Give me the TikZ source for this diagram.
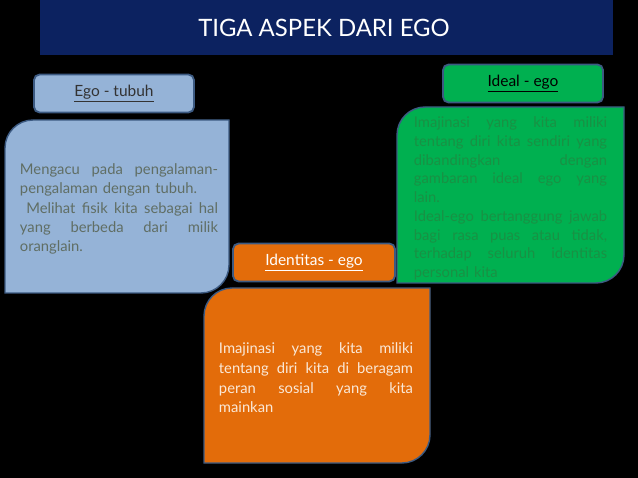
\documentclass[tikz,border=0pt]{standalone}
\usepackage{fontspec}
\setmainfont{Lato}
\usepackage{tikz}

\definecolor{bandnavy}{RGB}{12,34,96}
\definecolor{egoblue}{RGB}{149,179,215}
\definecolor{idealgreen}{RGB}{0,176,80}
\definecolor{identorange}{RGB}{227,108,10}
\definecolor{edgeblue}{RGB}{60,90,130}
\definecolor{egoink}{RGB}{96,110,100}
\definecolor{idealink}{RGB}{25,145,68}
\definecolor{identink}{RGB}{250,232,215}

\newcommand{\fullline}[2][4.95cm]{\makebox[#1][s]{\spaceskip=0pt \xspaceskip=0pt #2}}

\begin{document}
\begin{tikzpicture}[x=0.025cm,y=-0.025cm,
      labelbox/.style={draw=edgeblue,line width=1.3pt,rounded corners=4pt,
        minimum width=4cm,minimum height=0.95cm,inner sep=0pt,
        font=\fontsize{11}{13}\selectfont},
      bodybox/.style={draw=edgeblue,line width=1pt},
      bodytext/.style={inner sep=0pt,align=left,
        font=\fontsize{10.5}{13.6}\selectfont}]
      \useasboundingbox (0,0) rectangle (638,478);
      \fill[black] (0,0) rectangle (638,478);

      \fill[bandnavy] (40,0) rectangle (613,55);
      \node[text=white,font=\fontsize{17}{20}\selectfont] (title) at (324,28) {TIGA ASPEK DARI EGO};

      \node[labelbox,fill=egoblue,text=black!80] (egolabel) at (114,93.5) {\underline{Ego - tubuh}};
      \node[labelbox,fill=idealgreen,text=black] (ideallabel) at (523,83.5) {\underline{Ideal - ego}};
      \node[labelbox,fill=identorange,text=white,minimum width=4.05cm] (identlabel) at (314,262.5) {\underline{Identitas - ego}};

      \draw[bodybox,fill=egoblue] (5,293) -- (5,148) .. controls (5,132.6) and (17.6,120) .. (33,120)
        -- (229,120) -- (229,265) .. controls (229,280.4) and (216.4,293) .. (201,293) -- cycle;
      \draw[bodybox,fill=idealgreen] (397,283) -- (397,135) .. controls (397,119.6) and (409.6,107) .. (425,107)
        -- (624,107) -- (624,255) .. controls (624,270.4) and (611.4,283) .. (596,283) -- cycle;
      \draw[bodybox,fill=identorange] (204,463) -- (204,316) .. controls (204,300.6) and (216.6,288) .. (232,288)
        -- (430,288) -- (430,435) .. controls (430,450.4) and (417.4,463) .. (402,463) -- cycle;

      \node[bodytext,text=egoink,text width=4.95cm] (egotext) at (119,209) {
        \fullline{Mengacu pada pengalaman-}\\
        pengalaman dengan tubuh.\\
        \fullline{\ Melihat fisik kita sebagai hal}\\
        \fullline{yang berbeda dari milik}\\
        oranglain.};
      \node[bodytext,text=idealink,text width=4.83cm,font=\fontsize{10.5}{13.3}\selectfont] (idealtext) at (510.5,198.5) {
        \fullline[4.83cm]{Imajinasi yang kita miliki}\\
        \fullline[4.83cm]{tentang diri kita sendiri yang}\\
        \fullline[4.83cm]{dibandingkan dengan}\\
        \fullline[4.83cm]{gambaran ideal ego yang}\\
        lain.\\
        \fullline[4.83cm]{Ideal-ego bertanggung jawab}\\
        \fullline[4.83cm]{bagi rasa puas atau tidak,}\\
        \fullline[4.83cm]{terhadap seluruh identitas}\\
        personal kita};
      \node[bodytext,text=identink,text width=4.85cm,font=\fontsize{10.5}{14}\selectfont] (identtext) at (316,378) {
        \fullline[4.85cm]{Imajinasi yang kita miliki}\\
        \fullline[4.85cm]{tentang diri kita di beragam}\\
        \fullline[4.85cm]{peran sosial yang kita}\\
        mainkan};
      \end{tikzpicture}
\end{document}
